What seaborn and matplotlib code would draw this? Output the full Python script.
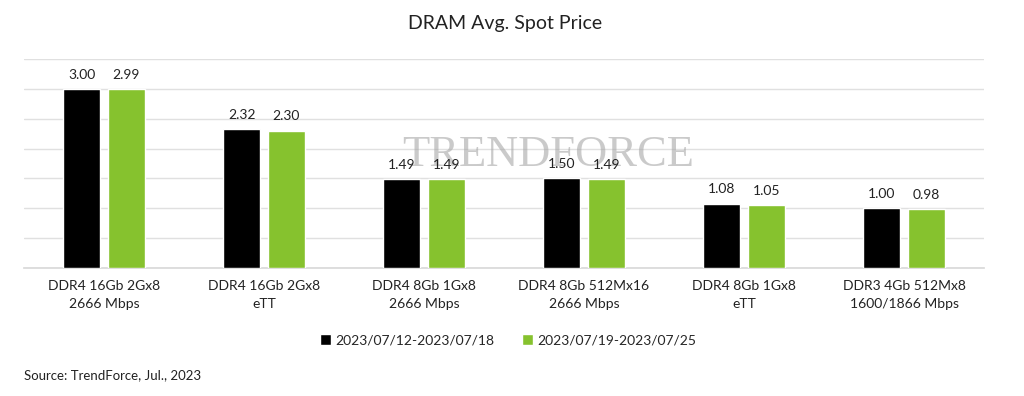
import matplotlib
matplotlib.use("Agg")
import matplotlib.pyplot as plt
import seaborn as sns
import pandas as pd
from matplotlib.patches import Patch

categories = ["DDR4 16Gb 2Gx8\n2666 Mbps", "DDR4 16Gb 2Gx8\neTT", "DDR4 8Gb 1Gx8\n2666 Mbps",
              "DDR4 8Gb 512Mx16\n2666 Mbps", "DDR4 8Gb 1Gx8\neTT", "DDR3 4Gb 512Mx8\n1600/1866 Mbps"]
week1_label = "2023/07/12-2023/07/18"
week2_label = "2023/07/19-2023/07/25"
week1 = [3.00, 2.32, 1.49, 1.50, 1.08, 1.00]
week2 = [2.99, 2.30, 1.49, 1.49, 1.05, 0.98]

df = pd.DataFrame({
    "cat": categories * 2,
    "period": [week1_label] * len(categories) + [week2_label] * len(categories),
    "price": week1 + week2,
})

sns.set_theme(style="white")
plt.rcParams["font.family"] = ["Lato", "DejaVu Sans"]

colors = {week1_label: "#000000", week2_label: "#86c22e"}

fig = plt.figure(figsize=(10.24, 3.96), dpi=100)
ax = fig.add_axes([24 / 1024, 1 - 268 / 396, (984 - 24) / 1024, (268 - 59) / 396])

# watermark (behind the bars)
ax.text((548 - 24) / 960, 1 - (155 - 59) / (268 - 59), "TRENDFORCE", transform=ax.transAxes,
        family="Liberation Serif", fontsize=32, color="#a8a8a8", alpha=0.6,
        ha="center", va="center", zorder=1)

sns.barplot(data=df, x="cat", y="price", hue="period", palette=colors, saturation=1,
            width=0.56, gap=0.19, ax=ax, legend=False, zorder=3,
            order=categories, hue_order=[week1_label, week2_label])

for cont in ax.containers:
    ax.bar_label(cont, fmt="%.2f", padding=6, fontsize=10, color="#222222", zorder=4)

ax.set_ylim(0, 3.5)
ax.set_xlim(-0.5, len(categories) - 0.5)
ax.set_yticks([0.5 * i for i in range(8)])
ax.set_yticklabels([])
ax.tick_params(axis="y", length=0)
ax.yaxis.grid(True, color="#e0e0e0", linewidth=1)
ax.set_axisbelow(True)
ax.set_xlabel("")
ax.set_ylabel("")
ax.set_xticks(range(len(categories)))
ax.set_xticklabels(categories, fontsize=10, color="#222222", linespacing=1.5)
ax.tick_params(axis="x", length=0, pad=9)
ax.set_xticks([i - 0.5 for i in range(len(categories) + 1)], minor=True)
ax.tick_params(axis="x", which="minor", length=5, color="#d9d9d9", width=1)
for s in ["left", "right", "top"]:
    ax.spines[s].set_visible(False)
ax.spines["bottom"].set_color("#d9d9d9")

fig.text(505 / 1024, 1 - 24 / 396, "DRAM Avg. Spot Price", fontsize=14, ha="center",
         va="center", color="#222222")

handles = [Patch(facecolor=colors[week1_label]), Patch(facecolor=colors[week2_label])]
fig.legend(handles, [week1_label, week2_label], loc="center", bbox_to_anchor=(508 / 1024, 1 - 340 / 396),
           ncol=2, frameon=False, fontsize=10, handlelength=0.8, handleheight=0.8,
           handletextpad=0.3, columnspacing=2.0)

fig.text(24 / 1024, 1 - 375 / 396, "Source: TrendForce, Jul., 2023", fontsize=9.5,
         ha="left", va="center", color="#222222")

fig.savefig("out.png", dpi=100)
